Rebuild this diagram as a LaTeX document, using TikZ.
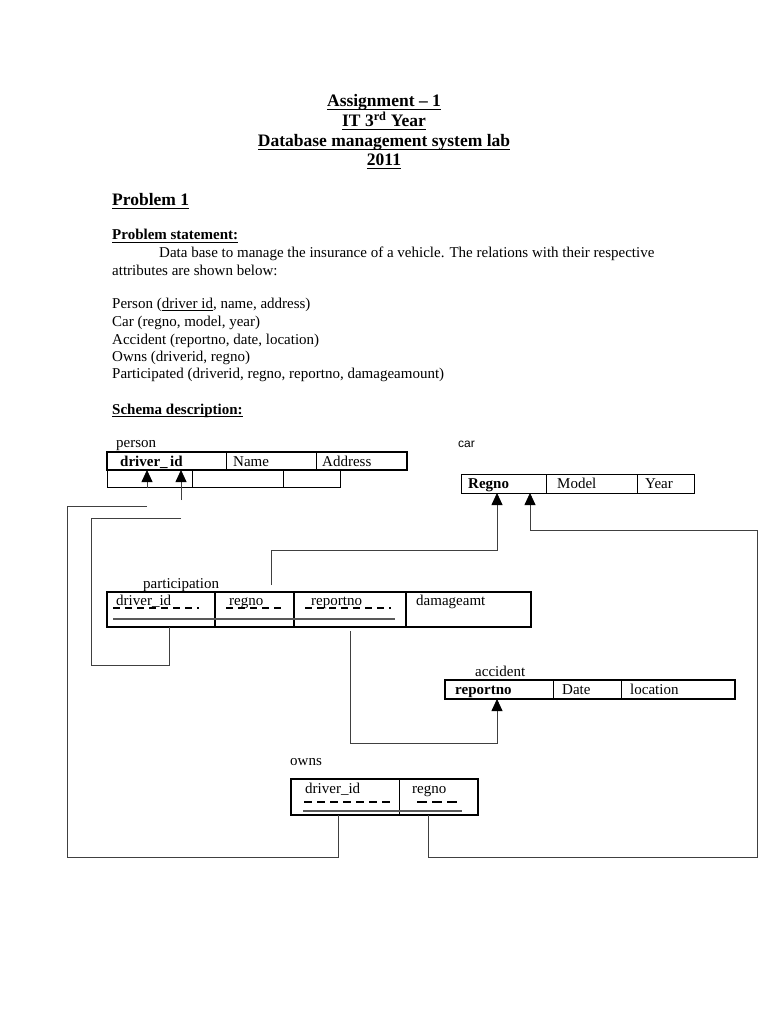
\documentclass[tikz,border=0pt]{standalone}
\usepackage{fontspec}
\setmainfont{Liberation Serif}
\newfontfamily\arialfont{Liberation Sans}
\usetikzlibrary{arrows.meta}
\newcommand\uln[1]{\setbox0\hbox{#1}\rlap{\vrule height -1.6pt depth 2.8pt width \wd0}\box0}
\tikzset{
  fld/.style={anchor=base west, inner sep=0pt, font=\fontsize{15}{17}\selectfont},
  lbl/.style={anchor=base west, inner sep=0pt, font=\fontsize{15}{17}\selectfont},
  tab/.style={draw, line width=1.5pt},
  tabthin/.style={draw, line width=0.9pt},
  wire/.style={draw, line width=0.8pt, black!75},
  ptr/.style={wire, -{Triangle[width=11pt,length=12pt,color=black]}},
  body/.style={anchor=base west, inner sep=0pt, font=\fontsize{15}{17}\selectfont},
  head/.style={anchor=base, inner sep=0pt, font=\bfseries\fontsize{17.5}{19}\selectfont},
  dashline/.style={draw, line width=1.1pt, dash pattern=on 7pt off 5pt},
}
\begin{document}
\begin{tikzpicture}[x=1pt,y=-1pt]
  \useasboundingbox[fill=white] (0,0) rectangle (768,1024);
  % title block
  \node[head] (t1) at (384,107) {\uln{Assignment -- 1}};
  \node[head] (t2) at (384,127) {\uln{IT 3\textsuperscript{rd} Year}};
  \node[head] (t3) at (384,147) {\uln{Database management system lab}};
  \node[head] (t4) at (384,166) {\uln{2011}};
  \node[body, font=\bfseries\fontsize{17.5}{19}\selectfont] (prob) at (112,206) {\uln{Problem 1}};
  \node[body, font=\bfseries\fontsize{15}{17}\selectfont] (pst) at (112,240) {\uln{Problem statement:}};
  \node[body] (s1) at (159,257) {Data base to manage the insurance of a vehicle. The relations with their respective};
  \node[body] (s2) at (112,275) {attributes are shown below:};
  \node[body] (r1) at (112,308) {Person (\uln{driver id}, name, address)};
  \node[body] (r2) at (112,326) {Car (regno, model, year)};
  \node[body] (r3) at (112,344) {Accident (reportno, date, location)};
  \node[body] (r4) at (112,361) {Owns (driverid, regno)};
  \node[body] (r5) at (112,378) {Participated (driverid, regno, reportno, damageamount)};
  \node[body, font=\bfseries\fontsize{15}{17}\selectfont] (sch) at (112,414) {\uln{Schema description:}};

  % person
  \node[lbl] (lperson) at (116,447) {person};
  \draw[tab] (107,452) rectangle (407,470);
  \draw[tabthin] (226,452) -- (226,470) (316,452) -- (316,470);
  \draw[tabthin] (107,470) rectangle (340,487);
  \draw[tabthin] (192,470) -- (192,487) (283,470) -- (283,487);
  \node[fld, font=\bfseries\fontsize{15}{17}\selectfont] (pdid) at (120,466) {driver\_\,id};
  \node[fld] (pname) at (233,466) {Name};
  \node[fld] (paddr) at (322,466) {Address};

  % car
  \node[lbl, font=\arialfont\fontsize{12}{14}\selectfont] (lcar) at (458,447) {car};
  \draw[tabthin] (461,474) rectangle (694,493);
  \draw[tabthin] (546,474) -- (546,493) (637,474) -- (637,493);
  \node[fld, font=\bfseries\fontsize{15}{17}\selectfont] (creg) at (468,488) {Regno};
  \node[fld] (cmod) at (557,488) {Model};
  \node[fld] (cyear) at (645,488) {Year};

  % participation
  \node[lbl] (lpart) at (143,588) {participation};
  \draw[tab] (107,592) rectangle (531,627);
  \draw[tab] (215,592) -- (215,627) (294,592) -- (294,627) (406,592) -- (406,627);
  \node[fld] (qdid) at (116,605) {driver\_id};
  \node[fld] (qreg) at (229,605) {regno};
  \node[fld] (qrep) at (311,605) {reportno};
  \node[fld] (qdmg) at (416,605) {damageamt};
  \draw[dashline] (113,608) -- (199,608);
  \draw[dashline] (226,608) -- (281,608);
  \draw[dashline] (305,608) -- (391,608);
  \draw[line width=1.1pt, black!65] (113,619) -- (395,619);

  % accident
  \node[lbl] (lacc) at (475,676) {accident};
  \draw[tab] (445,680) rectangle (735,699);
  \draw[tabthin] (553,680) -- (553,699) (621,680) -- (621,699);
  \node[fld, font=\bfseries\fontsize{15}{17}\selectfont] (arep) at (455,694) {reportno};
  \node[fld] (adate) at (562,694) {Date};
  \node[fld] (aloc) at (630,694) {location};

  % owns
  \node[lbl] (lowns) at (290,765) {owns};
  \draw[tab] (291,779) rectangle (478,815);
  \draw[tabthin] (399,779) -- (399,815);
  \node[fld] (odid) at (305,793) {driver\_id};
  \node[fld] (oreg) at (412,793) {regno};
  \draw[dashline, dash pattern=on 8pt off 5pt] (304,802) -- (391,802);
  \draw[dashline, dash pattern=on 10pt off 5pt] (417,802) -- (457,802);
  \draw[line width=1.1pt, black!65] (303,811) -- (462,811);

  % connectors
  \coordinate (pk1) at (147,470);
  \coordinate (pk2) at (181,470);
  \coordinate (ck1) at (497,493);
  \coordinate (ck2) at (530,493);
  \coordinate (ak1) at (497,699);
  \draw[ptr] (147,488) -- (pk1);
  \draw[ptr] (181,500) -- (pk2);
  \draw[wire] (147,506) -- (67,506) -- (67,857) -- (338,857) -- (338,815);
  \draw[wire] (181,518) -- (91,518) -- (91,665) -- (169,665) -- (169,627);
  \draw[ptr] (271,585) -- (271,550) -- (497,550) -- (ck1);
  \draw[ptr] (428,815) -- (428,857) -- (757,857) -- (757,530) -- (530,530) -- (ck2);
  \draw[ptr] (350,631) -- (350,743) -- (497,743) -- (ak1);
\end{tikzpicture}
\end{document}
